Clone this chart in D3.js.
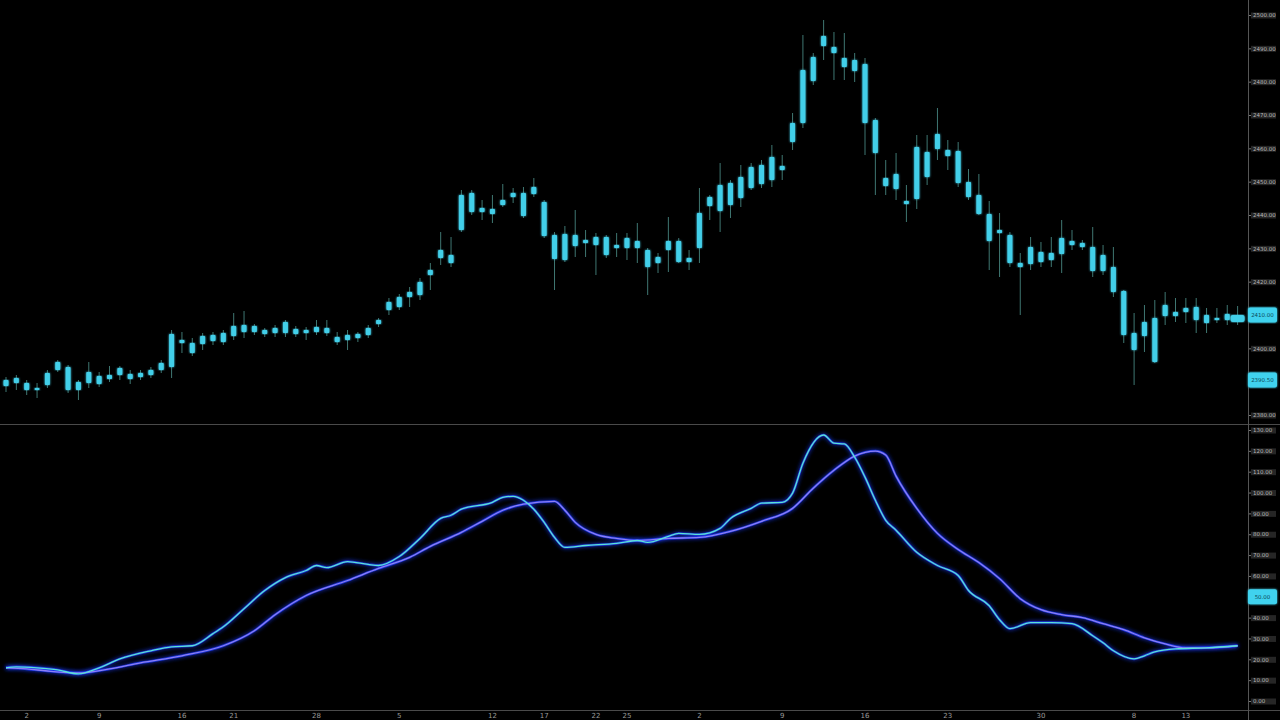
<!DOCTYPE html>
<html>
<head>
<meta charset="utf-8">
<script src="https://cdn.jsdelivr.net/npm/d3@7"></script>
<style>
	body { margin: 0; background: #000; }
	svg { display: block; }
</style>
</head>
<body>
<div id="chart"></div>
<script>
// candle data, one entry per bar
let opens = [2388.7,2389.6,2389.6,2388.1,2389.0,2393.5,2394.4,2387.5,2389.6,2391.7,2390.8,2392.0,2392.3,2391.4,2392.0,2393.5,2394.4,2402.5,2401.6,2401.3,2402.2,2401.9,2403.7,2404.9,2406.7,2405.5,2404.6,2404.6,2405.8,2405.5,2404.9,2406.1,2403.4,2402.5,2403.1,2404.0,2407.3,2411.5,2412.4,2415.4,2416.0,2422.0,2427.1,2428.0,2435.5,2440.9,2442.1,2441.8,2443.0,2445.4,2446.6,2446.3,2443.9,2434.0,2426.5,2434.0,2431.6,2431.0,2433.4,2430.1,2430.1,2432.2,2429.5,2425.6,2429.5,2432.2,2425.9,2430.1,2442.7,2441.2,2443.0,2445.1,2448.1,2449.3,2450.5,2454.7,2461.9,2467.6,2480.2,2490.7,2490.4,2487.1,2486.5,2485.3,2468.5,2451.1,2447.8,2444.2,2444.8,2458.9,2459.8,2459.5,2459.2,2449.9,2446.0,2440.3,2434.6,2434.0,2425.6,2425.3,2428.9,2426.5,2428.3,2432.2,2431.6,2430.4,2423.2,2424.4,2417.2,2404.6,2403.7,2395.9,2409.7,2410.9,2410.9,2412.4,2407.6,2409.1,2408.5,2407.9]
let highs = [2391.4,2392.0,2390.5,2389.6,2393.5,2396.5,2395.0,2390.5,2395.9,2392.9,2394.7,2394.7,2393.5,2393.5,2394.4,2396.5,2405.5,2404.9,2403.1,2404.6,2404.9,2405.5,2410.6,2411.2,2407.3,2406.1,2407.0,2408.5,2406.7,2406.4,2408.5,2408.5,2404.9,2405.5,2404.9,2407.0,2409.1,2415.1,2416.3,2418.4,2421.1,2425.6,2434.9,2433.4,2447.5,2447.5,2444.5,2446.0,2449.3,2448.1,2448.4,2451.1,2444.5,2434.9,2436.7,2441.5,2435.5,2434.6,2434.0,2434.6,2434.6,2437.6,2430.1,2428.6,2439.4,2433.1,2429.5,2448.1,2446.0,2455.6,2450.5,2455.0,2455.6,2456.5,2461.0,2458.0,2470.6,2494.0,2488.6,2498.5,2494.9,2494.6,2488.6,2487.1,2469.1,2456.5,2458.6,2449.0,2464.0,2464.0,2472.1,2462.5,2461.9,2453.8,2452.3,2444.2,2440.6,2434.9,2428.6,2433.4,2431.9,2433.4,2438.5,2435.5,2432.5,2436.4,2431.0,2430.4,2417.5,2410.6,2413.0,2414.5,2416.9,2415.1,2415.1,2415.1,2412.1,2412.1,2413.0,2412.7]
let lows = [2386.9,2387.5,2386.0,2385.1,2388.1,2392.9,2386.6,2384.5,2388.1,2388.4,2389.9,2390.5,2389.3,2390.5,2391.1,2392.6,2391.1,2398.6,2397.7,2399.5,2401.0,2401.0,2402.5,2403.1,2404.0,2403.4,2403.4,2403.4,2403.4,2402.5,2404.0,2403.7,2401.0,2399.5,2401.9,2403.1,2406.4,2410.0,2411.5,2412.4,2414.5,2417.5,2425.0,2424.4,2434.9,2440.0,2438.5,2437.6,2442.4,2443.6,2439.1,2445.4,2433.1,2417.5,2425.9,2427.4,2427.4,2422.0,2427.1,2427.4,2426.5,2425.6,2416.0,2422.6,2422.9,2425.6,2423.5,2425.6,2438.5,2434.9,2439.1,2442.4,2447.5,2448.1,2448.4,2450.5,2459.5,2466.1,2479.0,2486.5,2480.5,2480.5,2479.9,2458.0,2446.0,2446.0,2444.5,2437.9,2441.8,2449.0,2456.5,2453.5,2448.4,2444.5,2440.0,2423.5,2421.4,2424.4,2410.0,2423.5,2424.4,2424.4,2422.6,2429.5,2429.5,2421.4,2422.0,2415.4,2401.6,2389.0,2398.9,2395.6,2407.0,2407.9,2407.6,2404.6,2404.6,2407.6,2407.0,2407.0]
let closes = [2390.5,2391.1,2387.5,2387.5,2392.6,2395.9,2387.5,2389.9,2392.9,2389.3,2392.0,2394.1,2390.8,2392.6,2393.5,2395.6,2404.3,2401.6,2398.6,2403.7,2404.0,2404.6,2406.7,2407.0,2404.9,2404.3,2406.1,2407.9,2404.3,2404.6,2406.4,2404.6,2401.9,2404.0,2404.3,2406.1,2408.5,2413.9,2415.4,2416.9,2419.9,2423.5,2429.5,2425.6,2446.0,2446.6,2440.9,2440.3,2444.5,2446.6,2439.7,2448.4,2433.7,2426.8,2434.3,2430.7,2432.5,2433.4,2428.0,2431.0,2433.1,2430.1,2424.4,2427.4,2432.2,2425.9,2427.1,2440.6,2445.4,2449.0,2449.6,2451.4,2454.4,2455.0,2457.4,2453.5,2467.6,2483.5,2487.4,2493.7,2488.6,2484.4,2483.2,2467.6,2458.6,2448.7,2452.3,2443.3,2460.4,2451.4,2464.3,2457.7,2449.6,2445.4,2440.3,2432.2,2435.5,2425.6,2424.4,2430.4,2425.9,2428.6,2433.1,2431.0,2430.4,2423.2,2428.0,2416.9,2404.0,2399.5,2407.9,2409.1,2413.0,2409.7,2412.1,2408.5,2410.0,2408.5,2410.3,2410.0]

// indicator lines (bar index, value)
let fastIdx = [0,1,3,5,7,9,11,14,16,18,20,21,23,25,27,29,30,31,33,35,36,38,40,42,43,44,47,48,49,50,51,52,53,54,56,59,61,62,64,65,67,69,70,72,73,75,76,77,79,80,81,82,83,84,85,86,88,90,92,93,95,96,97,99,101,103,105,106,107,109,110,111,113,116,119]
let fastVal = [15.9,16.4,15.9,14.9,13.0,15.9,20.2,24.1,26.0,26.5,32.3,35.6,44.3,53.0,59.2,62.6,65.0,64.0,66.9,65.5,65.0,69.3,78.0,87.6,89.1,92.0,95.3,97.7,98.2,96.3,92.0,85.7,78.5,73.7,74.6,75.6,77.0,76.1,79.0,80.4,79.9,82.8,87.6,92.4,94.9,95.3,99.7,114.1,127.6,123.7,123.3,117.0,107.4,96.3,86.7,81.9,71.3,65.0,60.2,53.0,45.7,39.0,34.7,37.6,37.6,37.1,31.3,27.9,24.1,20.2,21.7,23.6,25.0,25.5,26.5]
let slowIdx = [0,2,4,7,10,13,17,21,24,26,29,33,36,39,41,44,46,48,50,53,54,55,57,59,61,64,67,70,73,76,78,80,82,84,85,86,88,90,92,94,96,98,100,102,104,106,108,110,112,114,116,119]
let slowVal = [15.9,15.4,14.4,13.5,15.4,18.3,21.7,26.5,33.7,41.4,50.6,57.8,63.6,68.9,74.2,80.9,86.2,91.5,94.4,95.8,91.5,85.7,79.9,78.0,77.0,78.0,78.5,81.4,86.2,92.4,102.1,110.7,117.5,119.9,118.0,107.9,92.4,80.4,72.7,66.4,58.7,49.1,43.8,41.4,40.0,37.1,34.2,30.3,27.4,25.5,25.5,26.5]

// axis ticks and labels
let priceTicks = [2500,2490,2480,2470,2460,2450,2440,2430,2420,2410,2400,2390,2380]
let indTicks = [0,10,20,30,40,50,60,70,80,90,100,110,120,130]
let timeTickIdx = [2,9,17,22,30,38,47,52,57,60,67,75,83,91,100,109,114]
let timeTickLabels = ["2","9","16","21","28","5","12","17","22","25","2","9","16","23","30","8","13"]
let priceMarks = [2390.5]
let indMarks = [50]

let w = 1280
let h = 720
let axisX = 1248
let sepY = 424
let bottomY = 710

let svg = d3.select("#chart")
	.append("svg")
	.attr("width", w)
	.attr("height", h)
	.style("background", "#000")

let defs = svg.append("defs")
let glow = defs.append("filter").attr("id", "glow")
	.attr("x", "-20%").attr("y", "-20%").attr("width", "140%").attr("height", "140%")
glow.append("feGaussianBlur").attr("stdDeviation", 2.2).attr("result", "b")
let gm = glow.append("feMerge")
gm.append("feMergeNode").attr("in", "b")
gm.append("feMergeNode").attr("in", "SourceGraphic")

let soft = defs.append("filter").attr("id", "soft")
	.attr("x", "-50%").attr("y", "-10%").attr("width", "200%").attr("height", "120%")
soft.append("feGaussianBlur").attr("stdDeviation", 1.1).attr("result", "b")
let sm = soft.append("feMerge")
sm.append("feMergeNode").attr("in", "b")
sm.append("feMergeNode").attr("in", "SourceGraphic")

let n = opens.length
let x = d3.scalePoint()
	.domain(d3.range(n))
	.range([6, 1237.6])

let y = d3.scaleLinear()
	.domain([2377.3, 2504.5])
	.range([sepY, 0])

let yInd = d3.scaleLinear()
	.domain([0, 130])
	.range([701, 430])

// frame lines
svg.append("line")
	.attr("x1", 0).attr("x2", w)
	.attr("y1", sepY + 0.5).attr("y2", sepY + 0.5)
	.attr("stroke", "#4a4a4a")
svg.append("line")
	.attr("x1", 0).attr("x2", w)
	.attr("y1", bottomY + 0.5).attr("y2", bottomY + 0.5)
	.attr("stroke", "#4a4a4a")

//Create candles
let candles = svg.append("g")
	.selectAll("g")
	.data(d3.range(n))
	.join("g")

candles.append("line")
	.attr("x1", i => x(i))
	.attr("x2", i => x(i))
	.attr("y1", i => y(highs[i]))
	.attr("y2", i => y(lows[i]))
	.attr("stroke", "#3f7772")
	.attr("stroke-width", 1)

candles.append("rect")
	.attr("x", i => x(i) - (i === n - 1 ? 7 : 2.5))
	.attr("width", i => i === n - 1 ? 14 : 5)
	.attr("y", i => y(Math.max(opens[i], closes[i])))
	.attr("height", i => Math.max(2, Math.abs(y(opens[i]) - y(closes[i]))))
	.attr("rx", i => i === n - 1 ? 2 : 0.8)
	.attr("fill", "#43cfe9")
	.attr("filter", "url(#soft)")

// indicator lines
let line = d3.line()
	.x(d => x(d[0]))
	.y(d => yInd(d[1]))
	.curve(d3.curveMonotoneX)

let fast = fastIdx.map((d, i) => [d, fastVal[i]])
let slow = slowIdx.map((d, i) => [d, slowVal[i]])

;[slow, fast].forEach(s => {
	svg.append("path")
		.datum(s)
		.attr("d", line)
		.attr("fill", "none")
		.attr("stroke", "#1f3cff")
		.attr("stroke-width", 2.5)
		.attr("filter", "url(#glow)")
		.attr("opacity", 0.85)
})

svg.append("path")
	.datum(slow)
	.attr("d", line)
	.attr("fill", "none")
	.attr("stroke", "#8c7ff5")
	.attr("stroke-width", 1.3)

svg.append("path")
	.datum(fast)
	.attr("d", line)
	.attr("fill", "none")
	.attr("stroke", "#5ae2d6")
	.attr("stroke-width", 1.3)

// right price axis
let yAxis = d3.axisRight(y)
	.tickValues(priceTicks)
	.tickSize(3)
	.tickFormat(d3.format(".2f"))

let gy = svg.append("g")
	.attr("transform", "translate(" + axisX + ", 0)")
	.call(yAxis)

let indAxis = d3.axisRight(yInd)
	.tickValues(indTicks)
	.tickSize(3)
	.tickFormat(d3.format(".2f"))

let gi = svg.append("g")
	.attr("transform", "translate(" + axisX + ", 0)")
	.call(indAxis)

;[gy, gi].forEach(g => {
	g.select(".domain").remove()
	g.selectAll(".tick line").attr("stroke", "#777")
	g.selectAll(".tick").insert("rect", "text")
		.attr("x", 3).attr("y", -3)
		.attr("width", 25).attr("height", 6)
		.attr("fill", "#262626")
	g.selectAll(".tick text")
		.attr("x", 5)
		.attr("fill", "#b5b5b5")
		.style("font-family", "DejaVu Sans")
		.style("font-size", "5.5px")
})

svg.append("line")
	.attr("x1", axisX + 0.5).attr("x2", axisX + 0.5)
	.attr("y1", 0).attr("y2", h)
	.attr("stroke", "#555")

// highlighted value labels
let tag = (g, yy, txt) => {
	g.append("rect")
		.attr("x", axisX).attr("y", yy - 7.5)
		.attr("width", 29).attr("height", 15)
		.attr("rx", 2)
		.attr("fill", "#41d2ee")
		.attr("filter", "url(#soft)")
	g.append("text")
		.attr("x", axisX + 14.5).attr("y", yy + 2)
		.attr("text-anchor", "middle")
		.attr("fill", "#0b4a5a")
		.style("font-family", "DejaVu Sans")
		.style("font-size", "5.5px")
		.text(txt)
}
let tags = svg.append("g")
tag(tags, y(closes[n - 1]), d3.format(".2f")(closes[n - 1]))
priceMarks.forEach(p => tag(tags, y(p), d3.format(".2f")(p)))
indMarks.forEach(v => tag(tags, yInd(v), d3.format(".2f")(v)))

// time labels below bottom line
svg.append("g")
	.selectAll("text")
	.data(timeTickIdx)
	.join("text")
	.attr("x", d => x(d))
	.attr("y", 718)
	.attr("text-anchor", "middle")
	.attr("fill", "#9a9a9a")
	.style("font-family", "DejaVu Sans")
	.style("font-size", "7px")
	.text((d, i) => timeTickLabels[i])
</script>
</body>
</html>
